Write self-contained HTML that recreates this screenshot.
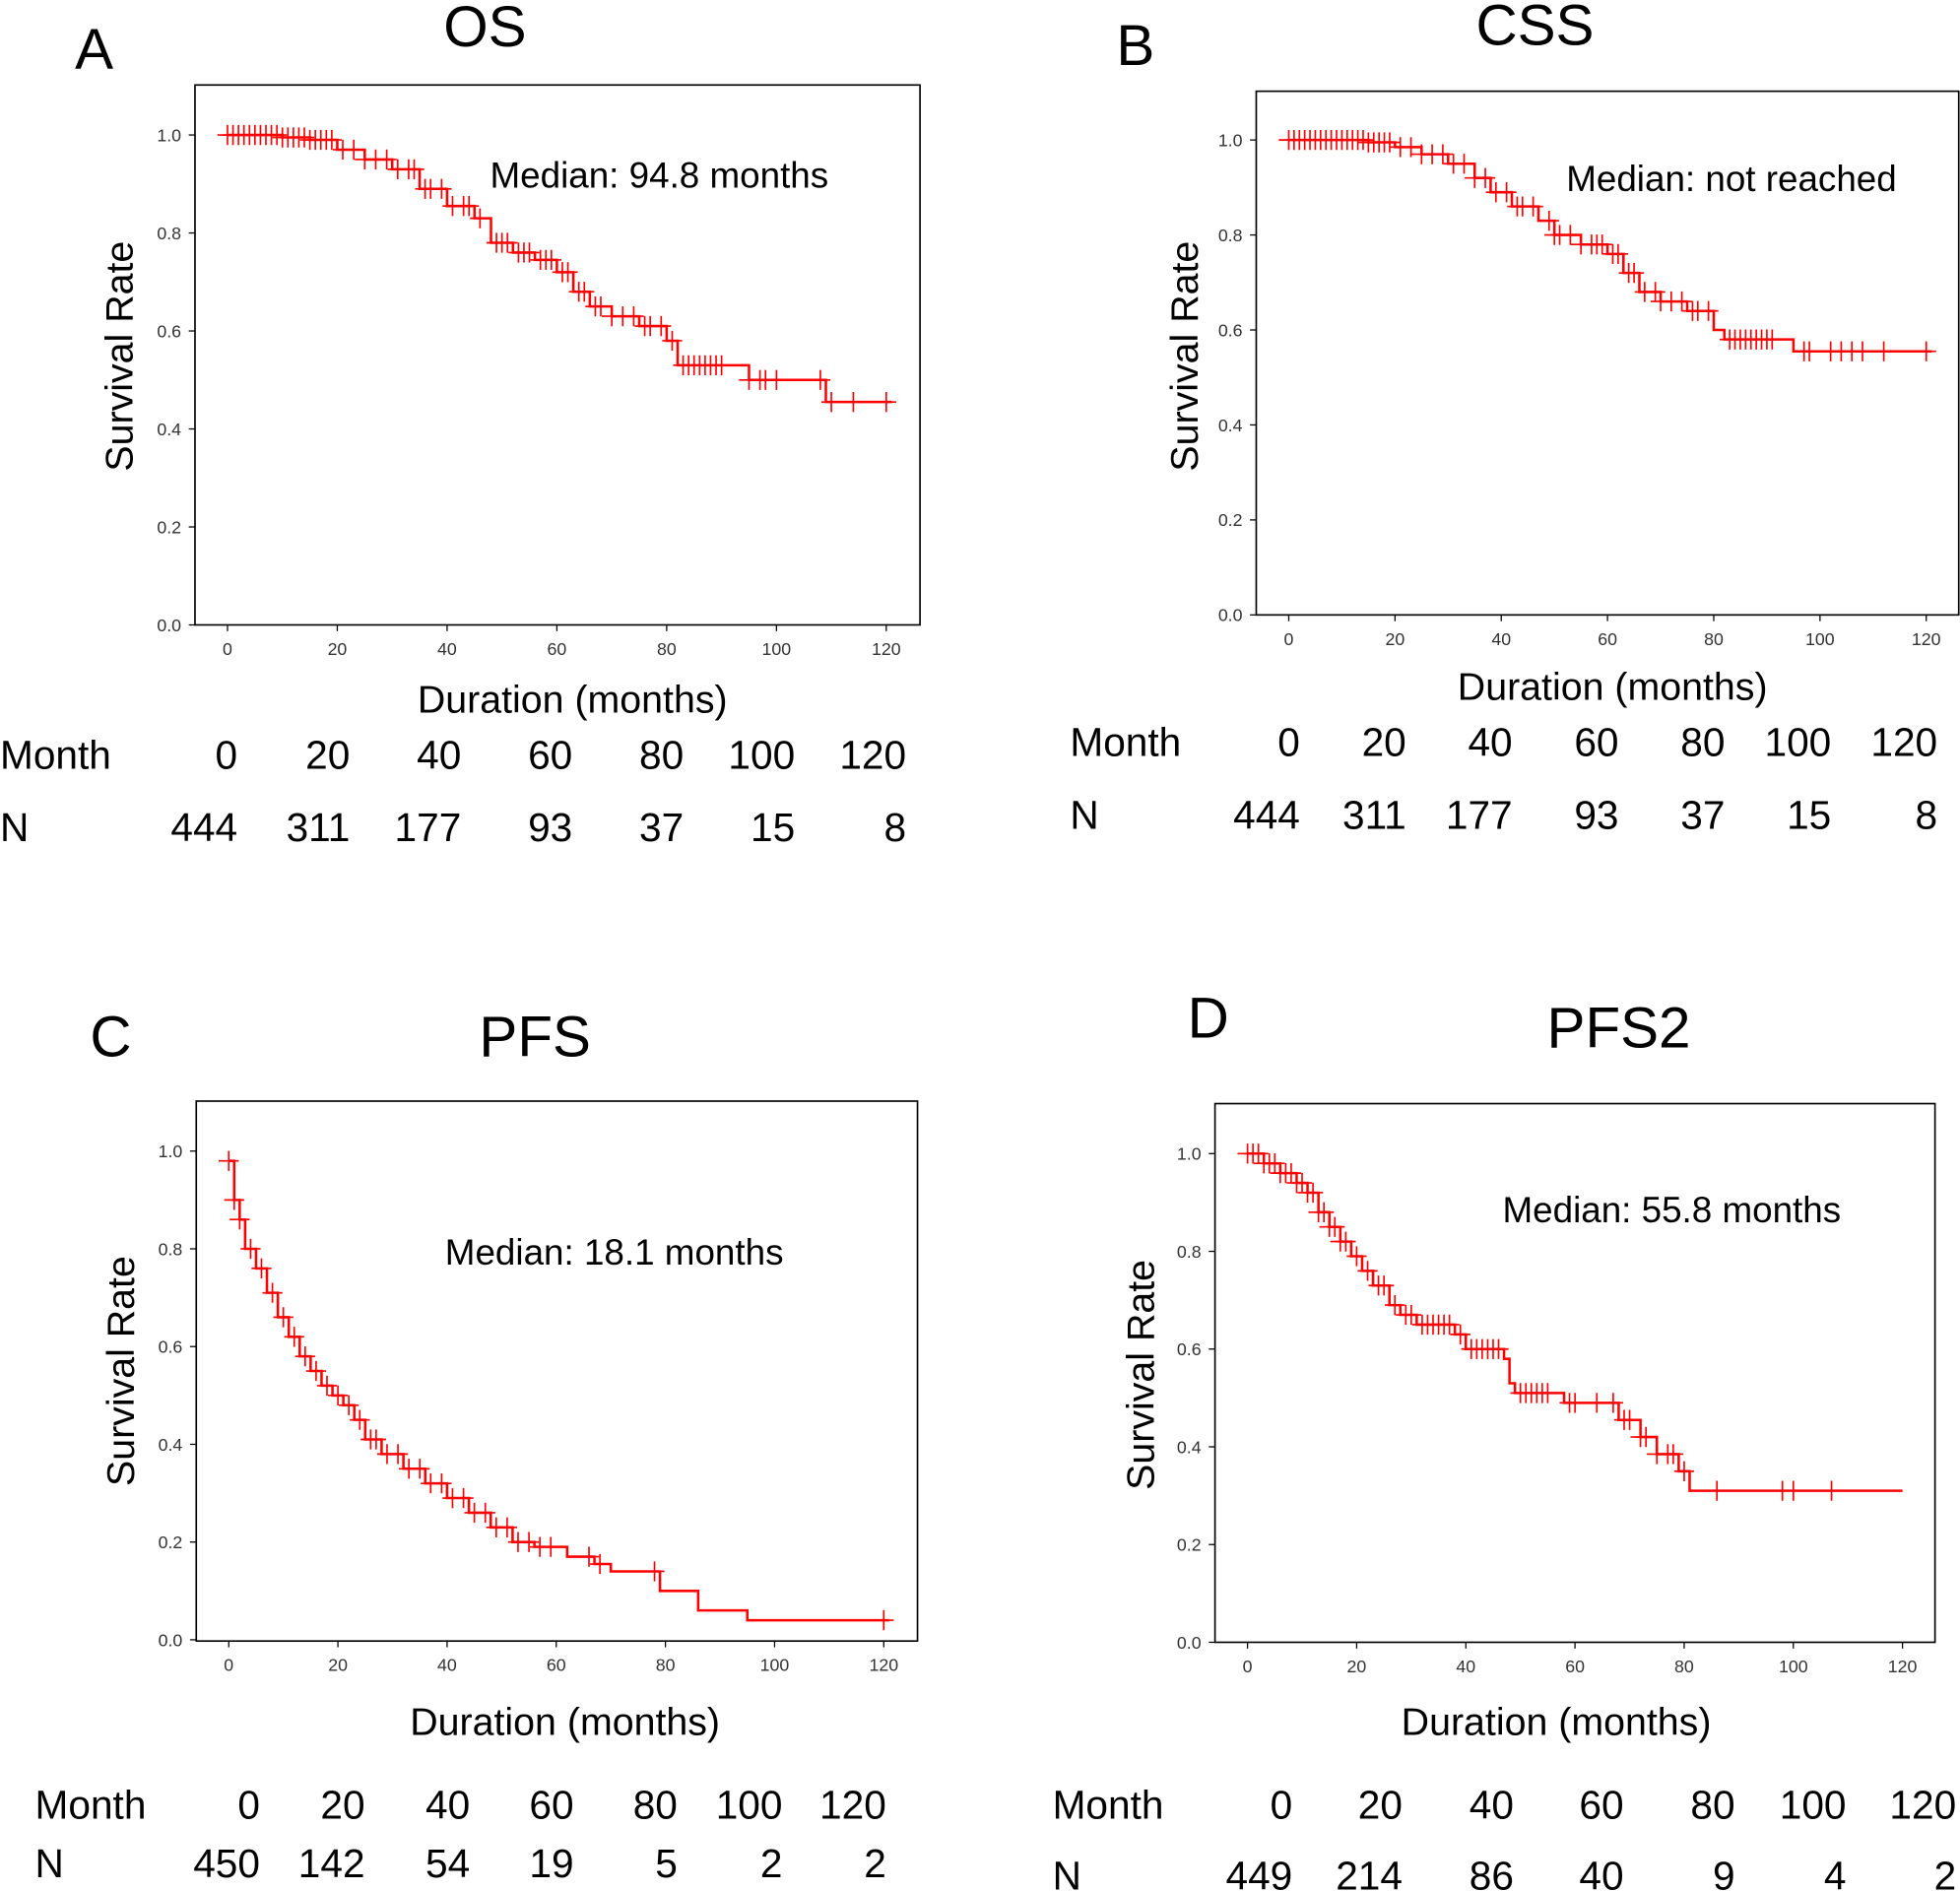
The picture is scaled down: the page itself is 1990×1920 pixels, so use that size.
<!DOCTYPE html>
<html><head><meta charset="utf-8"><style>
html,body{margin:0;padding:0;background:#fff;}
svg{display:block;font-family:"Liberation Sans",sans-serif;}
</style></head><body>
<svg id="fig" width="1990" height="1920" viewBox="0 0 1568 1513" preserveAspectRatio="none" xmlns="http://www.w3.org/2000/svg">
<g font-size="46" fill="#000">
<text x="60" y="55">A</text>
<text x="388" y="37" text-anchor="middle">OS</text>
<text x="893" y="52">B</text>
<text x="1228" y="36" text-anchor="middle">CSS</text>
<text x="72" y="845">C</text>
<text x="428" y="845" text-anchor="middle">PFS</text>
<text x="950" y="830">D</text>
<text x="1295" y="838" text-anchor="middle">PFS2</text>
</g>
</svg>
<script>
// OS data
const osTimes=[0,10,15,20,25,30,35,40,45,48,52,56,60,63,66,70,75,80,82,95,109,121];
const osSurv=[1.0,0.995,0.99,0.97,0.95,0.93,0.89,0.855,0.83,0.78,0.76,0.745,0.72,0.68,0.65,0.63,0.61,0.58,0.53,0.50,0.455,0.455];
const osCens=[0,1,2,3,4,5,6,7,8,9,10,11,12,13,14,15,16,17,18,19,21,23,25,27,29,31,33,34,36,37,39,41,43,44,46,49,50,51,53,54,55,57,58,59,61,62,64,65,67,68,70,72,74,76,77,79,81,83,84,85,86,87,88,89,90,95,97,98,100,108,110,114,120];
const osN=["444","311","177","93","37","15","8"];
// CSS data
const cssTimes=[0,15,20,25,30,35,38,42,47,50,55,60,63,66,70,75,80,82,95,121];
const cssSurv=[1.0,0.995,0.985,0.97,0.95,0.92,0.89,0.86,0.83,0.80,0.78,0.76,0.72,0.68,0.66,0.64,0.60,0.58,0.555,0.555];
const cssCens=[0,1,2,3,4,5,6,7,8,9,10,11,12,13,14,15,16,17,18,19,21,23,25,27,29,31,33,35,37,39,41,43,44,46,49,50,51,53,55,57,58,59,61,62,64,65,67,69,70,72,74,76,77,79,83,84,85,86,87,88,89,90,91,97,98,102,104,106,108,112,120];
const cssN=["444","311","177","93","37","15","8"];
// PFS data
const pfsTimes=[0,1,2,3,5,7,9,11,13,15,17,19,21,23,25,28,32,36,40,44,48,52,56,62,67,70,79,86,95,121];
const pfsSurv=[0.98,0.90,0.86,0.80,0.76,0.71,0.66,0.62,0.58,0.55,0.52,0.50,0.48,0.45,0.41,0.38,0.35,0.32,0.29,0.26,0.23,0.20,0.19,0.17,0.155,0.14,0.10,0.06,0.04,0.04];
const pfsCens=[0,1,2,4,6,8,10,12,14,16,18,20,22,24,26,27,29,31,33,35,37,39,41,43,45,47,49,51,53,55,57,59,66,68,78,120];
const pfsN=["450","142","54","19","5","2","2"];
// PFS2 data
const pfs2Times=[0,3,6,9,11,13,15,17,19,21,23,26,28,31,38,40,47,48,49,58,68,72,75,79,81,120];
const pfs2Surv=[1.0,0.98,0.96,0.94,0.92,0.88,0.85,0.82,0.79,0.76,0.73,0.69,0.67,0.65,0.63,0.60,0.58,0.53,0.51,0.49,0.455,0.42,0.385,0.35,0.31,0.31];
const pfs2Cens=[0,1,2,3,4,5,6,7,8,9,10,11,12,13,14,15,16,17,18,20,22,24,25,27,29,30,32,33,34,35,36,37,39,41,42,43,44,45,46,50,51,52,53,54,55,59,60,64,67,69,70,72,73,75,77,78,80,86,98,100,107];
const pfs2N=["449","214","86","40","9","4","2"];
const monthLabels=["0","20","40","60","80","100","120"];
const xTicks=[0,20,40,60,80,100,120];
const yTicks=[0,0.2,0.4,0.6,0.8,1.0];

const NS="http://www.w3.org/2000/svg";
const svg=document.getElementById('fig');
function mk(tag,attrs,parent){const e=document.createElementNS(NS,tag);for(const k in attrs)e.setAttribute(k,attrs[k]);(parent||svg).appendChild(e);return e;}

const panels=[
 {id:'os',times:osTimes,surv:osSurv,cens:osCens,n:osN,box:[156,68,736,500],x0:182,x120:709,y1:108,y0:500,med:"Median: 94.8 months",mx:392,my:150,dur:[458,570],ylab:[95,285],month:[0,615],nrow:[0,673],cols:[190,280,369,458,547,636,725]},
 {id:'css',times:cssTimes,surv:cssSurv,cens:cssCens,n:cssN,box:[1005,73,1567,492],x0:1031,x120:1541,y1:112,y0:492,med:"Median: not reached",mx:1253,my:153,dur:[1290,560],ylab:[947,285],month:[856,605],nrow:[856,663],cols:[1040,1125,1210,1295,1380,1465,1550]},
 {id:'pfs',times:pfsTimes,surv:pfsSurv,cens:pfsCens,n:pfsN,box:[157,881,734,1313],x0:183,x120:707,y1:921,y0:1312,med:"Median: 18.1 months",mx:356,my:1012,dur:[452,1388],ylab:[96,1097],month:[28,1455],nrow:[28,1502],cols:[208,292,376,459,542,626,709]},
 {id:'pfs2',times:pfs2Times,surv:pfs2Surv,cens:pfs2Cens,n:pfs2N,box:[972,883,1548,1314],x0:998,x120:1522,y1:923,y0:1314,med:"Median: 55.8 months",mx:1202,my:978,dur:[1245,1388],ylab:[912,1100],month:[842,1455],nrow:[842,1512],cols:[1034,1122,1211,1299,1388,1477,1565]}
];

panels.forEach(p=>{
 const g=mk('g',{});
 
 
 const xs=t=>p.x0+(p.x120-p.x0)*t/120;
 const ys=v=>p.y0-(p.y0-p.y1)*v;
 const b=p.box;
 const r=mk('rect',{x:b[0],y:b[1],width:b[2]-b[0],height:b[3]-b[1],fill:'none',stroke:'#000','stroke-width':1.3},g);
 
 
 yTicks.forEach(v=>{
  mk('line',{x1:b[0]-5,x2:b[0],y1:ys(v),y2:ys(v),stroke:'#000','stroke-width':1},g);
  const t=mk('text',{x:b[0]-11,y:ys(v)+5,'text-anchor':'end','font-size':14,fill:'#333'},g);
  t.textContent=v.toFixed(1);
  
  
 });
 xTicks.forEach(v=>{
  mk('line',{x1:xs(v),x2:xs(v),y1:b[3],y2:b[3]+5,stroke:'#000','stroke-width':1},g);
  const t=mk('text',{x:xs(v),y:b[3]+24,'text-anchor':'middle','font-size':14,fill:'#333'},g);
  t.textContent=String(v);
  
  
 });
 let d='M'+xs(p.times[0])+','+ys(p.surv[0]);
 for(let i=1;i<p.times.length;i++){d+=' H'+xs(p.times[i])+' V'+ys(p.surv[i]);}
 const path=mk('path',{d:d,fill:'none',stroke:'#ff0000','stroke-width':2},g);
 
 
 const sAt=t=>{let v=p.surv[0];for(let i=0;i<p.times.length;i++){if(p.times[i]<=t)v=p.surv[i];}return v;};
 p.cens.forEach(t=>{
  const cx=xs(t),cy=ys(sAt(t));
  const c=mk('path',{d:`M${cx-8},${cy} H${cx+8} M${cx},${cy-8} V${cy+8}`,stroke:'#ff0000','stroke-width':1.3,fill:'none'},g);
  
  
 });
 const m=mk('text',{x:p.mx,y:p.my,'font-size':29,fill:'#000'},g);
 m.textContent=p.med;
 
 
 const dl=mk('text',{x:p.dur[0],y:p.dur[1],'text-anchor':'middle','font-size':31,fill:'#000'},g);
 dl.textContent='Duration (months)';
 
 
 const yl=mk('text',{x:0,y:0,'text-anchor':'middle','font-size':31,fill:'#000',transform:`translate(${p.ylab[0]+11},${p.ylab[1]}) rotate(-90)`},g);
 yl.textContent='Survival Rate';
 
 
 const mh=mk('text',{x:p.month[0],y:p.month[1],'font-size':32,fill:'#000'},g);
 mh.textContent='Month';
 
 
 const nh=mk('text',{x:p.nrow[0],y:p.nrow[1],'font-size':32,fill:'#000'},g);
 nh.textContent='N';
 
 
 p.cols.forEach((cx,i)=>{
  const a=mk('text',{x:cx,y:p.month[1],'text-anchor':'end','font-size':32,fill:'#000'},g);
  a.textContent=monthLabels[i];
  
  
  const n=mk('text',{x:cx,y:p.nrow[1],'text-anchor':'end','font-size':32,fill:'#000'},g);
  n.textContent=p.n[i];
  
  
 });
});
</script>
</body></html>
